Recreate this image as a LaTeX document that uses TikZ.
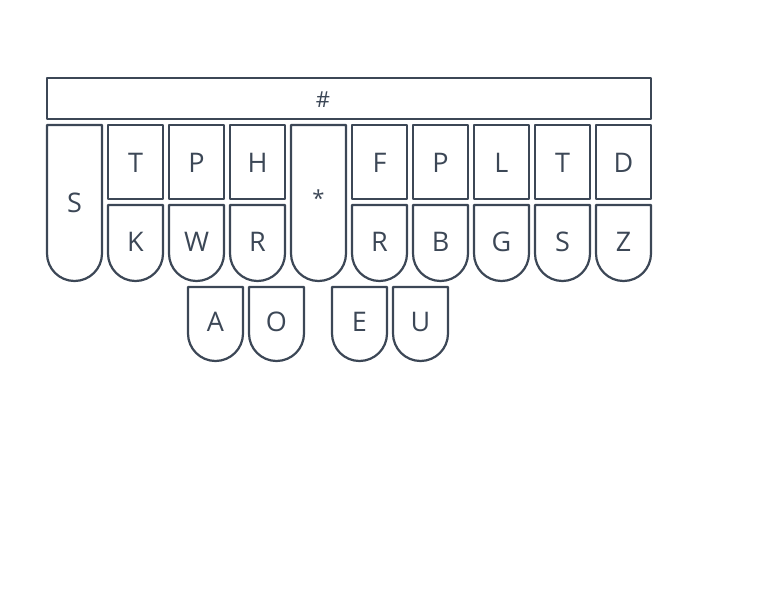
\documentclass[tikz,border=0pt]{standalone}
\usepackage{fontspec}
\setmainfont{Open Sans}

\definecolor{keyline}{RGB}{60,71,86}
\tikzset{
  key/.style={draw=keyline, line width=2.2pt, line join=round},
  lbl/.style={text=keyline, font=\fontsize{27}{30}\selectfont, inner sep=0pt}
}

\begin{document}
\begin{tikzpicture}[x=1pt, y=1pt]
  \useasboundingbox (0,0) rectangle (768,-594);

  % number bar
  \draw[key] (47,-78) rectangle (651,-119);
  \node[lbl, font=\fontsize{22}{24}\selectfont] (numbar) at (323,-100) {\#};

  % long keys
  \foreach \i/\n in {0/sL, 4/star} {
    \draw[key] (47+61*\i,-125) -- ++(0,-128.5)
      arc[start angle=180, end angle=360, radius=27.5pt] -- ++(0,128.5) -- cycle;
  }
  \node[lbl] (sL) at (74.5,-203) {S};
  \node[lbl, font=\fontsize{22}{24}\selectfont] (star) at (318.5,-198) {*};

  % upper row
  \foreach \i/\l/\n in {1/T/tL, 2/P/pL, 3/H/hL, 5/F/fR, 6/P/pR, 7/L/lR, 8/T/tR, 9/D/dR} {
    \draw[key] (47+61*\i,-125) rectangle ++(55,-74);
    \node[lbl] (\n) at (74.5+61*\i,-163) {\l};
  }

  % lower row
  \foreach \i/\l/\n in {1/K/kL, 2/W/wL, 3/R/rL, 5/R/rR, 6/B/bR, 7/G/gR, 8/S/sR, 9/Z/zR} {
    \draw[key] (47+61*\i,-205) -- ++(0,-48.5)
      arc[start angle=180, end angle=360, radius=27.5pt] -- ++(0,48.5) -- cycle;
    \node[lbl] (\n) at (74.5+61*\i,-242) {\l};
  }

  % vowels
  \foreach \x/\l/\n in {188/A/a, 249/O/o, 332/E/e, 393/U/u} {
    \draw[key] (\x,-287) -- ++(0,-46.5)
      arc[start angle=180, end angle=360, radius=27.5pt] -- ++(0,46.5) -- cycle;
    \node[lbl] (\n) at (\x+27.5,-322) {\l};
  }
\end{tikzpicture}
\end{document}
